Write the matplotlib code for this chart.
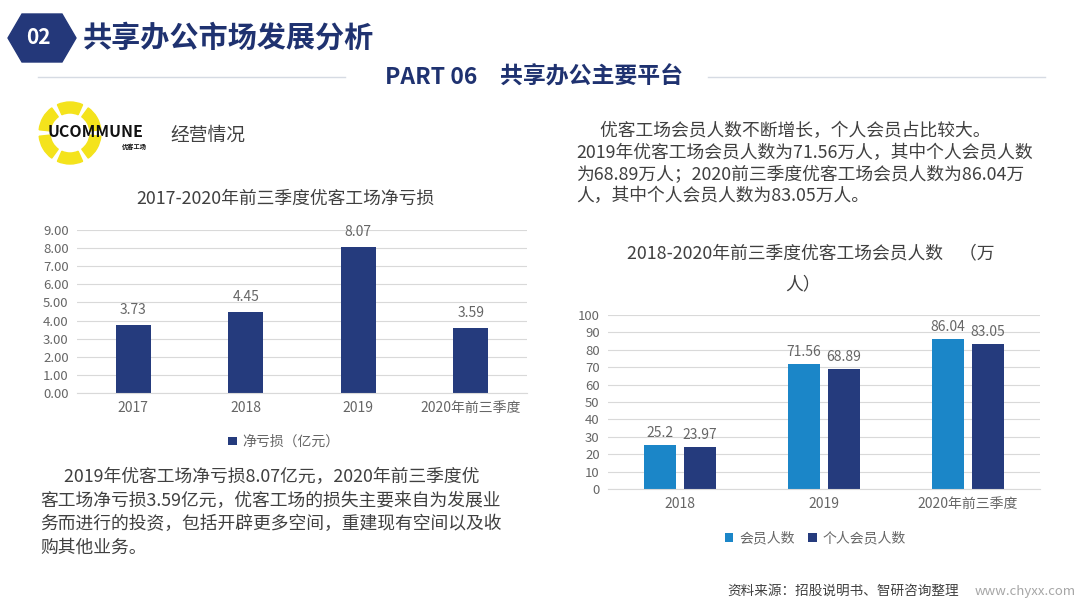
import numpy as np
import matplotlib
matplotlib.use("Agg")
import matplotlib.pyplot as plt
from matplotlib.patches import Polygon, Wedge

plt.rcParams['font.family'] = ['Noto Sans CJK SC', 'DejaVu Sans']

# data
loss_cats = ['2017', '2018', '2019', '2020年前三季度']
loss_vals = [3.73, 4.45, 8.07, 3.59]
loss_ticks = [0, 1, 2, 3, 4, 5, 6, 7, 8, 9]

mem_cats = ['2018', '2019', '2020年前三季度']
mem_total = [25.2, 71.56, 86.04]
mem_person = [23.97, 68.89, 83.05]
mem_ticks = [0, 10, 20, 30, 40, 50, 60, 70, 80, 90, 100]

NAVY = '#253b7d'
LBLUE = '#1b86c8'
GRAY = '#666666'
TXT = '#404040'
GRID = '#d9d9d9'

fig = plt.figure(figsize=(10.8, 6.08), dpi=100)

# background / decoration layer in pixel coords
bg = fig.add_axes([0, 0, 1, 1])
bg.set_xlim(0, 1080)
bg.set_ylim(608, 0)
bg.axis('off')

hexpts = [(8, 38), (22, 14), (62, 14), (76, 38), (62, 62), (22, 62)]
bg.add_patch(Polygon(hexpts, closed=True, color='#24387a'))
bg.text(38, 38, '02', color='white', fontsize=15, fontweight='bold', ha='center', va='center')
bg.text(83, 38, '共享办公市场发展分析', color='#1f3270', fontsize=21, fontweight='bold', va='center')

bg.plot([38, 345], [77, 77], color='#d6dbe3', lw=1)
bg.plot([708, 1045], [77, 77], color='#d6dbe3', lw=1)
bg.text(385, 77, 'PART 06', color='#1f3270', fontsize=16.5, fontweight='bold', ha='left', va='center')
bg.text(500, 77, '共享办公主要平台', color='#1f3270', fontsize=16.5, fontweight='bold', ha='left', va='center')

# logo ring
for a in range(0, 360, 60):
    bg.add_patch(Wedge((70, 133), 31, a + 6, a + 54, width=11, color='#f4e31c'))
bg.text(96, 132, 'UCOMMUNE', fontsize=11.5, fontweight='bold', ha='center', va='center', color='#111111')
bg.text(134, 146, '优客工场', fontsize=4.5, fontweight='bold', ha='center', va='center', color='#111111')
bg.text(170, 135, '经营情况', fontsize=13.5, ha='left', va='center', color=TXT)

# titles
bg.text(285, 199, '2017-2020年前三季度优客工场净亏损', fontsize=12.8, ha='center', va='center', color=TXT)
bg.text(811, 253, '2018-2020年前三季度优客工场会员人数    （万', fontsize=12.8, ha='center', va='center', color=TXT)
bg.text(803, 284, '人）', fontsize=12.8, ha='center', va='center', color=TXT)

# paragraphs
left_lines = ['      2019年优客工场净亏损8.07亿元，2020年前三季度优',
              '客工场净亏损3.59亿元，优客工场的损失主要来自为发展业',
              '务而进行的投资，包括开辟更多空间，重建现有空间以及收',
              '购其他业务。']
for i, s in enumerate(left_lines):
    bg.text(40, 477 + i * 23.5, s, fontsize=12.8, va='center', color=TXT)

right_lines = ['      优客工场会员人数不断增长，个人会员占比较大。',
               '2019年优客工场会员人数为71.56万人，其中个人会员人数',
               '为68.89万人；2020前三季度优客工场会员人数为86.04万',
               '人，其中个人会员人数为83.05万人。']
for i, s in enumerate(right_lines):
    bg.text(576, 131 + i * 21.8, s, fontsize=12.8, va='center', color=TXT)

bg.text(727, 591, '资料来源：招股说明书、智研咨询整理', fontsize=9.8, va='center', color=TXT)
bg.text(975, 591, 'www.chyxx.com', fontsize=9.5, va='center', color='#a6a6a6')


def style(ax, ticks, fmt):
    ax.set_yticks(ticks)
    ax.set_yticklabels([fmt.format(t) for t in ticks], color=GRAY, fontsize=9.5)
    ax.grid(axis='y', color=GRID, lw=0.8)
    ax.set_axisbelow(True)
    for s in ['top', 'right', 'left']:
        ax.spines[s].set_visible(False)
    ax.spines['bottom'].set_color(GRID)
    ax.tick_params(axis='both', length=0, pad=6)
    ax.patch.set_alpha(0)


# left chart
ax1 = fig.add_axes([77 / 1080, 1 - 393 / 608, 450 / 1080, 163 / 608])
x1 = np.arange(len(loss_cats))
b1 = ax1.bar(x1, loss_vals, width=0.31, color=NAVY, label='净亏损（亿元）')
ax1.bar_label(b1, fmt='%.2f', padding=6, color=GRAY, fontsize=10)
ax1.set_xlim(-0.5, len(loss_cats) - 0.5)
ax1.set_ylim(0, 9)
style(ax1, loss_ticks, '{:.2f}')
ax1.set_xticks(x1)
ax1.set_xticklabels(loss_cats, color=GRAY, fontsize=10)
ax1.legend(loc='upper center', bbox_to_anchor=(0.46, -0.18), frameon=False, fontsize=10,
           handlelength=0.6, handleheight=0.6, handletextpad=0.4, labelcolor=GRAY)

# right chart
ax2 = fig.add_axes([608 / 1080, 1 - 489 / 608, 432 / 1080, 174 / 608])
x2 = np.arange(len(mem_cats))
w = 0.22
b2 = ax2.bar(x2 - 0.14, mem_total, width=w, color=LBLUE, label='会员人数')
b3 = ax2.bar(x2 + 0.14, mem_person, width=w, color=NAVY, label='个人会员人数')
ax2.bar_label(b2, fmt='{:g}', padding=4, color=GRAY, fontsize=10)
ax2.bar_label(b3, fmt='{:g}', padding=4, color=GRAY, fontsize=10)
ax2.set_xlim(-0.5, len(mem_cats) - 0.5)
ax2.set_ylim(0, 100)
style(ax2, mem_ticks, '{:d}')
ax2.set_xticks(x2)
ax2.set_xticklabels(mem_cats, color=GRAY, fontsize=10)
ax2.legend(loc='upper center', bbox_to_anchor=(0.48, -0.17), frameon=False, fontsize=10, ncol=2,
           handlelength=0.6, handleheight=0.6, handletextpad=0.4, columnspacing=1.0, labelcolor=GRAY)

fig.savefig('out.png', dpi=100)
